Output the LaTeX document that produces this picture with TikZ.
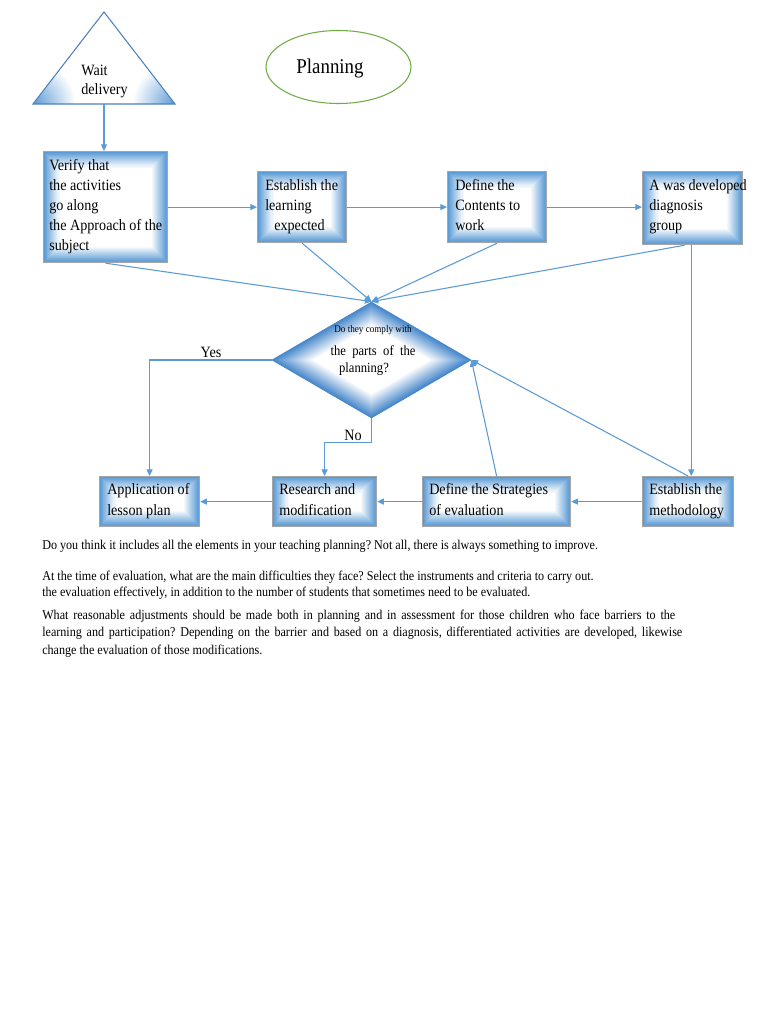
\documentclass[tikz,border=0pt]{standalone}
\usepackage{fontspec}
\setmainfont{Liberation Serif}[FakeStretch=0.9]
\usetikzlibrary{arrows.meta,shapes.geometric,calc}
\definecolor{boxblue}{HTML}{5B9BD5}
\definecolor{diablue}{HTML}{4A89CC}
\definecolor{boxedge}{HTML}{A5A5A5}
\definecolor{linkblue}{HTML}{5B9BD5}
\definecolor{tribord}{HTML}{4F81BD}
\definecolor{ellgreen}{HTML}{70AD47}
\tikzset{
  bluebox/.style={rectangle, draw=boxedge, line width=0.9pt, inner sep=0pt, anchor=north west,
    path picture={
      \foreach \k in {0,...,15}{
        \pgfmathsetmacro\cc{100-\k*100/15}
        \pgfmathsetmacro\dd{\k*0.8}
        \fill[boxblue!\cc!white] ([shift={(\dd pt,\dd pt)}]path picture bounding box.south west) rectangle ([shift={(-\dd pt,-\dd pt)}]path picture bounding box.north east);
      }}},
  diabox/.style={diamond, draw=diablue, line width=0.6pt, inner sep=0pt,
    path picture={
      \foreach \k in {0,...,15}{
        \pgfmathsetmacro\cc{100-\k*100/15}
        \pgfmathsetmacro\ff{1-\k*0.027}
        \fill[diablue!\cc!white] ($(path picture bounding box.center)!\ff!(path picture bounding box.west)$) -- ($(path picture bounding box.center)!\ff!(path picture bounding box.north)$) -- ($(path picture bounding box.center)!\ff!(path picture bounding box.east)$) -- ($(path picture bounding box.center)!\ff!(path picture bounding box.south)$) -- cycle;
      }}},
  link/.style={draw=linkblue, line width=0.8pt, -{Triangle[length=5pt,width=4.5pt]}},
  boxtext/.style={anchor=north west, inner sep=0pt, align=left, font=\fontsize{11.8}{15}\selectfont},
  lowtext/.style={anchor=north west, inner sep=0pt, align=left, font=\fontsize{11.8}{15.75}\selectfont},
  para/.style={anchor=base west, inner sep=0pt, font=\fontsize{10.1}{12}\selectfont\frenchspacing},
  lbl/.style={inner sep=0pt, font=\fontsize{11.8}{14}\selectfont},
}
\begin{document}
\begin{tikzpicture}[x=0.75pt,y=-0.75pt]
\useasboundingbox (0,0) rectangle (768,1024);
\fill[white] (0,0) rectangle (768,1024);

% triangle
\fill[white] (104,12) -- (33,104) -- (175,104) -- cycle;
\begin{scope}
  \clip (104,12) -- (33,104) -- (175,104) -- cycle;
  \shade[inner color=boxblue, outer color=white] (33,104) circle[radius=32pt];
  \shade[inner color=boxblue, outer color=white] (175,104) circle[radius=32pt];
\end{scope}
\draw[tribord, line width=0.8pt, line join=miter] (104,12) -- (33,104) -- (175,104) -- cycle;
\coordinate (tri) at (104,104);
\node[lbl, anchor=north west, align=left, font=\fontsize{11.8}{14.3}\selectfont] (t0) at (81,64.5) {Wait\\delivery};

% ellipse
\node[ellipse, draw=ellgreen, line width=0.8pt, minimum width=108.75pt, minimum height=54.75pt, inner sep=0pt] (plan) at (338.5,67) {};
\node[inner sep=0pt, font=\fontsize{15.75}{18}\selectfont] (plantxt) at (330,68) {Planning};

% boxes
\node[bluebox, minimum width=93pt, minimum height=83.25pt] (b1) at (43,151) {};
\node[bluebox, minimum width=66.75pt, minimum height=53.25pt] (b2) at (257,171) {};
\node[bluebox, minimum width=74.25pt, minimum height=53.25pt] (b3) at (447,171) {};
\node[bluebox, minimum width=75pt, minimum height=54.75pt] (b4) at (642,171) {};
\node[bluebox, minimum width=75pt, minimum height=37.5pt] (b5) at (99,476) {};
\node[bluebox, minimum width=78pt, minimum height=37.5pt] (b6) at (272,476) {};
\node[bluebox, minimum width=111pt, minimum height=37.5pt] (b7) at (422,476) {};
\node[bluebox, minimum width=68.25pt, minimum height=37.5pt] (b8) at (642,476) {};

\node[boxtext] (t1) at (49,159.5) {Verify that\\the activities\\go along\\the Approach of the\\subject};
\node[boxtext] (t2) at (265,179.5) {Establish the\\learning\\\hspace*{6.75pt}expected};
\node[boxtext] (t3) at (455,179.5) {Define the\\Contents to\\work};
\node[boxtext] (t4) at (649,179.5) {A was developed\\diagnosis\\group};
\node[lowtext] (t5) at (107,483) {Application of\\lesson plan};
\node[lowtext] (t6) at (279,483) {Research and\\modification};
\node[lowtext] (t7) at (429,483) {Define the Strategies\\of evaluation};
\node[lowtext] (t8) at (649,483) {Establish the\\methodology};

% diamond
\node[diabox, minimum width=149.25pt, minimum height=87pt] (dia) at (371.5,360) {};
\node[inner sep=0pt, font=\fontsize{7.6}{9}\selectfont] (d1) at (373,330) {Do they comply with};
\node[inner sep=0pt, font=\fontsize{10.5}{12}\selectfont] (d2) at (373,352) {\makebox[63.75pt][s]{the parts of the}};
\node[inner sep=0pt, font=\fontsize{10.5}{12}\selectfont] (d3) at (364,369.5) {planning?};

% connectors
\draw[link] (tri) -- (tri |- b1.north);
\draw[link] (b1.east) -- (b2.west);
\draw[link] (b2.east) -- (b3.west);
\draw[link] (b3.east) -- (b3.east -| b4.west);
\draw[link] (b1.south) -- (dia.north);
\draw[link] (b2.south) -- (dia.north);
\draw[link] (b3.south) -- (dia.north);
\draw[link] ([xshift=-6pt]b4.south) -- (dia.north);
\draw[link] ([xshift=-1pt]b4.south) -- ([xshift=-1pt]b4.south |- b8.north);
\draw[link] (b8.north) -- (dia.east);
\draw[link] (b7.north) -- (dia.east);
\draw[link] (b8.west) -- (b7.east);
\draw[link] (b7.west) -- (b6.east);
\draw[link] (b6.west) -- (b5.east);
\draw[link] (dia.west) -| (b5.north);
\draw[link] (dia.south) -- ++(0,24) -| (b6.north);
\node[lbl] (yes) at (211,352) {Yes};
\node[lbl] (no) at (353,435) {No};

% paragraphs
\node[para] (p1) at (42,549) {Do you think it includes all the elements in your teaching planning? Not all, there is always something to improve.};
\node[para] (p2) at (42,580.5) {At the time of evaluation, what are the main difficulties they face? Select the instruments and criteria to carry out.};
\node[para] (p3) at (42,596) {the evaluation effectively, in addition to the number of students that sometimes need to be evaluated.};
\node[para] (p4) at (42,619) {\makebox[474.75pt][s]{What reasonable adjustments should be made both in planning and in assessment for those children who face barriers to the}};
\node[para] (p5) at (42,636) {\makebox[480pt][s]{learning and participation? Depending on the barrier and based on a diagnosis, differentiated activities are developed, likewise}};
\node[para] (p6) at (42,654) {change the evaluation of those modifications.};
\end{tikzpicture}
\end{document}
